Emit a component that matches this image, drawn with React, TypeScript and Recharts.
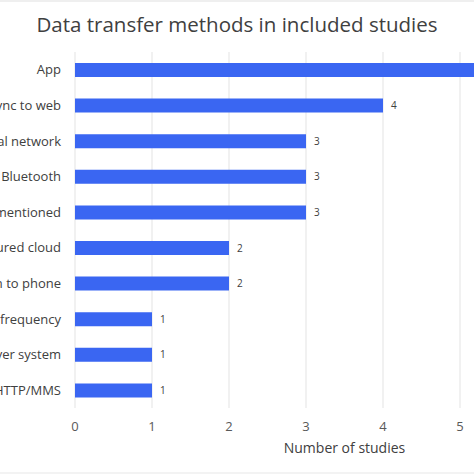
import React from "react";
import { BarChart, Bar, XAxis, YAxis, CartesianGrid, LabelList } from "recharts";

const categories = [
  "App",
  "Sync to web",
  "Local network",
  "Bluetooth",
  "Not mentioned",
  "Secured cloud",
  "Transmission to phone",
  "Radio frequency",
  "Server system",
  "HTTP/MMS",
];
const studies = [6, 4, 3, 3, 3, 2, 2, 1, 1, 1];
const xTicks = [0, 1, 2, 3, 4, 5, 6, 7];

const data = categories.map((name, i) => ({ name, value: studies[i] }));

const FONT = "'Open Sans', 'Liberation Sans', sans-serif";

export default function App() {
  return (
    <div
      style={{
        position: "fixed",
        left: 0,
        top: 0,
        width: 474,
        height: 474,
        overflow: "hidden",
        background: "#ffffff",
        fontFamily: FONT,
      }}
    >
      <div style={{ position: "absolute", left: 0, top: 0, width: 474, height: 2, background: "#efefef" }} />
      <div style={{ position: "absolute", left: 0, top: 472, width: 474, height: 2, background: "#f3f3f3" }} />
      <div
        style={{
          position: "absolute",
          left: 0,
          top: 10,
          width: 474,
          textAlign: "center",
          fontSize: 20.5,
          color: "#404040",
          whiteSpace: "nowrap",
          fontFamily: FONT,
        }}
      >
        Data transfer methods in included studies
      </div>
      <div style={{ position: "absolute", left: -200, top: 0 }}>
        <BarChart
          width={834}
          height={474}
          data={data}
          layout="vertical"
          margin={{ top: 52, right: 20, bottom: 16, left: 0 }}
          barSize={14}
        >
          <CartesianGrid horizontal={false} stroke="#e3e3e3" />
          <XAxis
            type="number"
            domain={[0, 7]}
            ticks={xTicks}
            interval={0}
            tickLine={false}
            axisLine={false}
            tickMargin={8}
            height={50}
            tick={{ fontSize: 13, fill: "#595959", fontFamily: FONT }}
            label={{
              value: "Number of studies",
              position: "insideBottom",
              offset: 5,
              style: { fontSize: 14, fill: "#404040", fontFamily: FONT },
            }}
          />
          <YAxis
            type="category"
            dataKey="name"
            width={275}
            tickLine={false}
            axisLine={false}
            tickMargin={8}
            interval={0}
            tick={{ fontSize: 13, fill: "#404040", fontFamily: FONT }}
          />
          <Bar dataKey="value" fill="#3a66f2" isAnimationActive={false}>
            <LabelList
              dataKey="value"
              position="right"
              offset={8}
              style={{ fontSize: 10, fill: "#404040", fontFamily: FONT }}
            />
          </Bar>
        </BarChart>
      </div>
    </div>
  );
}
